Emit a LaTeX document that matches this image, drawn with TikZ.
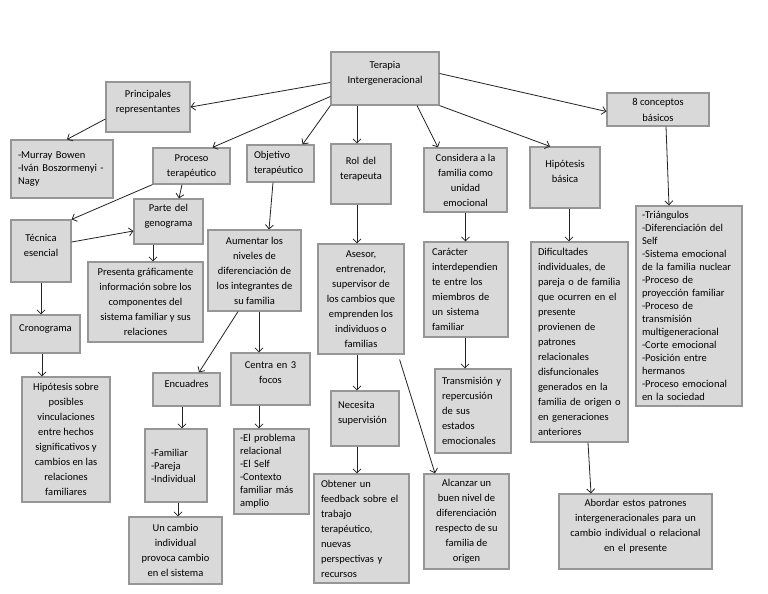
\documentclass[tikz,border=0pt]{standalone}
\usepackage{fontspec}
\setmainfont{Carlito}
\usetikzlibrary{arrows.meta}
\definecolor{relleno}{RGB}{217,217,217}
\definecolor{borde}{RGB}{150,150,150}
\definecolor{linea}{RGB}{35,35,35}

\begin{document}
\begin{tikzpicture}[x=1pt,y=-1pt,
  caja/.style={draw=borde, fill=relleno, line width=1.2pt, align=center, inner sep=0pt,
    font=\fontsize{10.5}{15}\selectfont, text=black},
  izq/.style={align=left, text width=#1},
  lista/.style={font=\fontsize{10.5}{13}\selectfont},
  tam/.style 2 args={minimum width=#1, minimum height=#2},
  sube/.style={text width=#1, execute at end node={\\[-3pt]\mbox{}}},
  flecha/.style={-{Straight Barb[length=4pt,width=8pt]}, line width=0.8pt, draw=linea}]
\useasboundingbox[fill=white] (0,0) rectangle (768,594);

% fila de arriba
\node[caja, sube=100pt, tam={108}{53}] (terapia) at (385,78.5) {Terapia\\Intergeneracional};
\node[caja, sube=78pt, tam={84}{50}] (repres) at (148,107) {Principales\\representantes};
\node[caja, tam={102}{33}] (conceptos) at (658,109.5) {8 conceptos\\[1pt]básicos};
\node[caja, lista, tam={102}{58}, izq=88pt] (autores) at (62,169) {-Murray Bowen\\-Iván Boszormenyi -\\Nagy};

% segunda fila
\node[caja, tam={77}{36}] (proceso) at (191.5,166) {Proceso\\terapéutico};
\node[caja, tam={67}{37}, izq=53pt] (objetivo) at (280.5,163.5) {Objetivo\\terapéutico};
\node[caja, sube=54pt, tam={60}{60}] (rol) at (361,174) {Rol del\\terapeuta};
\node[caja, tam={83}{64}] (considera) at (465.5,180) {Considera a la\\familia como\\unidad\\emocional};
\node[caja, sube=64pt, tam={70}{61}] (hipotesis) at (565,177.5) {Hipótesis\\básica};
\node[caja, lista, tam={106}{200}, izq=94pt] (listaconceptos) at (689,306) {-Triángulos\\-Diferenciación del\\Self\\-Sistema emocional\\de la familia nuclear\\-Proceso de\\proyección familiar\\-Proceso de\\transmisión\\multigeneracional\\-Corte emocional\\-Posición entre\\hermanos\\-Proceso emocional\\en la sociedad};

% proceso terapeutico
\node[caja, sube=54pt, tam={60}{62}] (tecnica) at (41,251) {Técnica\\esencial};
\node[caja, sube=63pt, tam={69}{45}] (genograma) at (168.5,221.5) {Parte del\\genograma};
\node[caja, tam={115}{80}] (presenta) at (145.5,302) {Presenta gráficamente\\información sobre los\\componentes del\\sistema familiar y sus\\relaciones};
\node[caja, sube=63pt, tam={69}{38}] (cronograma) at (45.5,334) {Cronograma};
\node[caja, tam={88}{125}] (hipsobre) at (66,439.5) {Hipótesis sobre\\posibles\\vinculaciones\\entre hechos\\significativos y\\cambios en las\\relaciones\\familiares};

% objetivo terapeutico
\node[caja, tam={93}{81}] (aumentar) at (254.5,270.5) {Aumentar los\\niveles de\\diferenciación de\\los integrantes de\\su familia};
\node[caja, sube=61pt, tam={67}{33}] (encuadres) at (186.5,389.5) {Encuadres};
\node[caja, sube=73pt, tam={79}{52}] (centra) at (270.5,379) {Centra en 3\\focos};
\node[caja, lista, tam={62}{73}, izq=50pt] (modalidades) at (176,465.5) {-Familiar\\-Pareja\\-Individual};
\node[caja, tam={93}{67}] (uncambio) at (175.5,550.5) {Un cambio\\individual\\provoca cambio\\en el sistema};
\node[caja, lista, tam={75}{85}, izq=63pt] (focos) at (271.5,471.5) {-El problema\\relacional\\-El Self\\-Contexto\\familiar más\\amplio};

% rol del terapeuta
\node[caja, tam={86}{110}] (asesor) at (361,299) {Asesor,\\entrenador,\\supervisor de\\los cambios que\\emprenden los\\individuos o\\familias};
\node[caja, align=left, sube=54pt, tam={68}{55}] (necesita) at (365,418.5) {Necesita\\supervisión};
\node[caja, tam={95}{109}, izq=81pt] (obtener) at (361.5,528.5) {Obtener un\\feedback sobre el\\trabajo\\terapéutico,\\nuevas\\perspectivas y\\recursos};
\node[caja, tam={85}{95}] (alcanzar) at (466.5,521.5) {Alcanzar un\\buen nivel de\\diferenciación\\respecto de su\\familia de\\origen};

% familia como unidad
\node[caja, tam={84}{95}, izq=68pt] (caracter) at (466,289.5) {Carácter\\interdependien\\te entre los\\miembros de\\un sistema\\familiar};
\node[caja, tam={76}{84}, izq=62pt] (transmision) at (473,411) {Transmisión y\\repercusión\\de sus\\estados\\emocionales};

% hipotesis basica
\node[caja, tam={97}{200}, izq=83pt] (dificultades) at (579.5,342) {Dificultades\\individuales, de\\pareja o de familia\\que ocurren en el\\presente\\provienen de\\patrones\\relacionales\\disfuncionales\\generados en la\\familia de origen o\\en generaciones\\anteriores};
\node[caja, sube=147pt, tam={153}{75}] (abordar) at (635.5,531.5) {Abordar estos patrones\\intergeneracionales para un\\cambio individual o relacional\\en el presente};

% flechas desde el centro
\draw[flecha] ([yshift=-4pt]terapia.west) -- (repres.east);
\draw[flecha] ([yshift=-18pt]terapia.west) -- ([xshift=21pt]proceso.north);
\draw[flecha] (terapia.south west) -- ([xshift=-12pt]objetivo.north east);
\draw[flecha] ([xshift=-4pt]rol.north |- terapia.south) -- ([xshift=-4pt]rol.north);
\draw[flecha] ([xshift=32pt]terapia.south) -- ([xshift=-27.5pt]considera.north);
\draw[flecha] (terapia.south east) -- ([xshift=-15pt]hipotesis.north);
\draw[flecha] ([yshift=5pt]terapia.east) -- ([yshift=-2pt]conceptos.west);

\draw[flecha] ([yshift=-12pt]repres.west) -- ([xshift=5pt]autores.north);
\draw[flecha] (proceso.south west) -- (tecnica.north east);
\draw[flecha] ([xshift=-9.5pt]proceso.south) -- ([xshift=10.5pt]genograma.north);
\draw[flecha] ([yshift=9pt]tecnica.east) -- ([yshift=-9.5pt]genograma.west);
\draw[flecha] (tecnica.south) -- (tecnica.south |- cronograma.north);
\draw[flecha] ([xshift=-15.5pt]genograma.south) -- ([xshift=-15.5pt]genograma.south |- presenta.north);
\draw[flecha] ([xshift=-3.5pt]cronograma.south) -- ([xshift=-3.5pt]cronograma.south |- hipsobre.north);

\draw[flecha] ([xshift=-7.5pt]objetivo.south) -- ([xshift=14.5pt]aumentar.north);
\draw[flecha] ([xshift=-16.5pt]aumentar.south) -- ([xshift=12.5pt]encuadres.north);
\draw[flecha] ([xshift=4.5pt]aumentar.south) -- ([xshift=4.5pt]aumentar.south |- centra.north);
\draw[flecha] ([xshift=-4.5pt]encuadres.south) -- ([xshift=-4.5pt]encuadres.south |- modalidades.north);
\draw[flecha] ([xshift=2pt]modalidades.south) -- ([xshift=2pt]modalidades.south |- uncambio.north);
\draw[flecha] ([xshift=-11.5pt]centra.south) -- ([xshift=-11.5pt]centra.south |- focos.north);

\draw[flecha] ([xshift=-4pt]rol.south) -- ([xshift=-4pt]asesor.north);
\draw[flecha] ([xshift=-4pt]asesor.south) -- ([xshift=-8pt]necesita.north);
\draw[flecha] ([xshift=-8pt]necesita.south) -- ([xshift=-4.5pt]obtener.north);
\coordinate (salida) at ([xshift=-5pt,yshift=-5pt]asesor.south east);
\draw[flecha] (salida) -- ([xshift=-31.5pt]alcanzar.north);

\draw[flecha] (considera.south) -- (considera.south |- caracter.north);
\draw[flecha] ([xshift=-1pt]caracter.south) -- ([xshift=-1pt]caracter.south |- transmision.north);
\draw[flecha] ([xshift=4pt]hipotesis.south) -- ([xshift=4pt]hipotesis.south |- dificultades.north);
\draw[flecha] ([xshift=8.5pt]dificultades.south) -- ([xshift=-44.5pt]abordar.north);
\draw[flecha] ([xshift=8pt]conceptos.south) -- ([xshift=-20pt]listaconceptos.north);
\end{tikzpicture}
\end{document}
